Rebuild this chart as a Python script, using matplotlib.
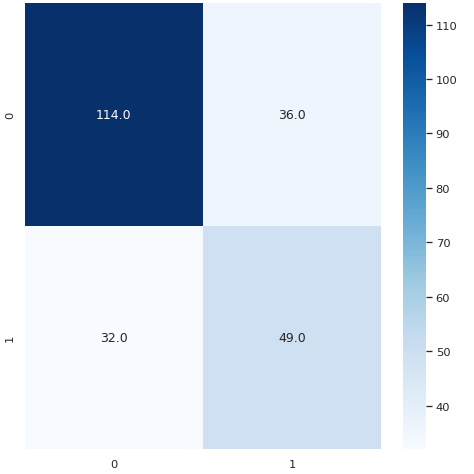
import matplotlib
matplotlib.use("Agg")
import matplotlib.pyplot as plt
import seaborn as sns
import numpy as np

row0 = [114, 36]
row1 = [32, 49]
labels = ["0", "1"]

sns.set_theme()
fig, ax = plt.subplots(figsize=(6.32, 6.333))
sns.heatmap(np.array([row0, row1]), annot=True, fmt=".1f", cmap="Blues", ax=ax,
            xticklabels=labels, yticklabels=labels)
fig.tight_layout(pad=0.3)
fig.savefig("out.png", dpi=75)
